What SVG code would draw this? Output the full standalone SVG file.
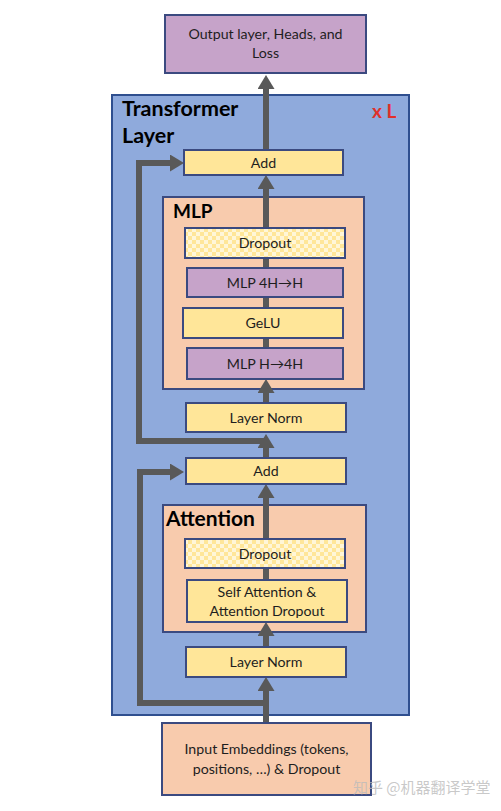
<svg xmlns="http://www.w3.org/2000/svg" width="501" height="811" viewBox="0 0 501 811">
<defs>
<style>
.box{stroke:#3b4a80;stroke-width:2}
.yellow{fill:#ffe699}
.purple{fill:#c6a3c9}
.peach{fill:#f8cbad}
.chk{fill:url(#checker)}
.t{font-family:Lato,"Liberation Sans",sans-serif;font-size:14.2px;fill:#1e1e1e;text-anchor:middle}
.h{font-family:Lato,"Liberation Sans",sans-serif;font-weight:bold;fill:#000}
.c{fill:none;stroke:#595959;stroke-width:6}
</style>
<pattern id="checker" width="8" height="8" patternUnits="userSpaceOnUse">
<rect width="8" height="8" fill="#fff6d8"/>
<rect width="4" height="4" fill="#ffe699"/>
<rect x="4" y="4" width="4" height="4" fill="#ffe699"/>
</pattern>
<marker id="ah" viewBox="0 0 14 17" refX="4" refY="8.5" markerWidth="14" markerHeight="17" markerUnits="userSpaceOnUse" orient="auto">
<path d="M0,0 L14,8.5 L0,17 z" fill="#595959"/>
</marker>
</defs>
<rect width="501" height="811" fill="#fff"/>

<g id="transformer-layer">
<rect x="112" y="95" width="297" height="620" fill="#8faadc" stroke="#2f4f8f" stroke-width="2"/>
<text class="h" x="122" y="116" font-size="21.5">Transformer</text>
<text class="h" x="122" y="143" font-size="21.5">Layer</text>
<text class="h" x="372" y="118" font-size="19" style="fill:#e0302a">x L</text>
</g>

<g id="output">
<rect class="box purple" x="165" y="15" width="201" height="58"/>
<text class="t" x="265.5" y="39">Output layer, Heads, and</text>
<text class="t" x="265.5" y="58">Loss</text>
</g>

<g id="mlp">
<rect class="box peach" x="163" y="197" width="201" height="192"/>
<text class="h" x="173" y="218" font-size="19">MLP</text>
</g>

<g id="attention">
<rect class="box peach" x="163" y="505" width="203" height="127"/>
<text class="h" x="166" y="526" font-size="21">Attention</text>
</g>

<g id="connectors">
<path class="c" d="M266,723 V687" marker-end="url(#ah)"/>
<path class="c" d="M266,647 V632" marker-end="url(#ah)"/>
<path class="c" d="M266,580 V568"/>
<path class="c" d="M266,539 V494" marker-end="url(#ah)"/>
<path class="c" d="M266,703 H140 V472 H174" marker-end="url(#ah)"/>
<path class="c" d="M266,458 V444" marker-end="url(#ah)"/>
<path class="c" d="M266,403 V389" marker-end="url(#ah)"/>
<path class="c" d="M266,348 V338"/>
<path class="c" d="M266,308 V297"/>
<path class="c" d="M266,268 V258"/>
<path class="c" d="M266,228 V185" marker-end="url(#ah)"/>
<path class="c" d="M266,441 H139 V163 H174" marker-end="url(#ah)"/>
<path class="c" d="M266,150 V85" marker-end="url(#ah)"/>
</g>

<g id="add-top">
<rect class="box yellow" x="184" y="150" width="159" height="25"/>
<text class="t" x="263.5" y="167.5">Add</text>
</g>

<g id="mlp-dropout">
<rect class="box chk" x="185" y="228" width="160" height="30"/>
<text class="t" x="265" y="248">Dropout</text>
</g>

<g id="mlp-4h-h">
<rect class="box purple" x="187" y="268" width="156" height="29"/>
<text class="t" x="265" y="287.5">MLP 4H→H</text>
</g>

<g id="gelu">
<rect class="box yellow" x="183" y="308" width="160" height="30"/>
<text class="t" x="263" y="328">GeLU</text>
</g>

<g id="mlp-h-4h">
<rect class="box purple" x="187" y="348" width="156" height="31"/>
<text class="t" x="265" y="369">MLP H→4H</text>
</g>

<g id="layer-norm-mlp">
<rect class="box yellow" x="186" y="403" width="160" height="29"/>
<text class="t" x="266" y="422.5">Layer Norm</text>
</g>

<g id="add-bottom">
<rect class="box yellow" x="186" y="458" width="160" height="26"/>
<text class="t" x="266" y="476">Add</text>
</g>

<g id="attn-dropout">
<rect class="box chk" x="185" y="539" width="160" height="29"/>
<text class="t" x="265" y="558.5">Dropout</text>
</g>

<g id="self-attention">
<rect class="box yellow" x="187" y="580" width="160" height="42"/>
<text class="t" x="267" y="597">Self Attention &amp;</text>
<text class="t" x="267" y="616">Attention Dropout</text>
</g>

<g id="layer-norm-attn">
<rect class="box yellow" x="186" y="647" width="160" height="30"/>
<text class="t" x="266" y="667">Layer Norm</text>
</g>

<g id="input">
<rect class="box peach" x="162" y="723" width="209" height="72"/>
<text class="t" x="266.5" y="754">Input Embeddings (tokens,</text>
<text class="t" x="266.5" y="774">positions, …) &amp; Dropout</text>
</g>

<text x="353" y="793" font-family="'Noto Sans CJK SC',sans-serif" font-size="15" fill="#bbbbbb" fill-opacity="0.8">知乎 @机器翻译学堂</text>
</svg>
